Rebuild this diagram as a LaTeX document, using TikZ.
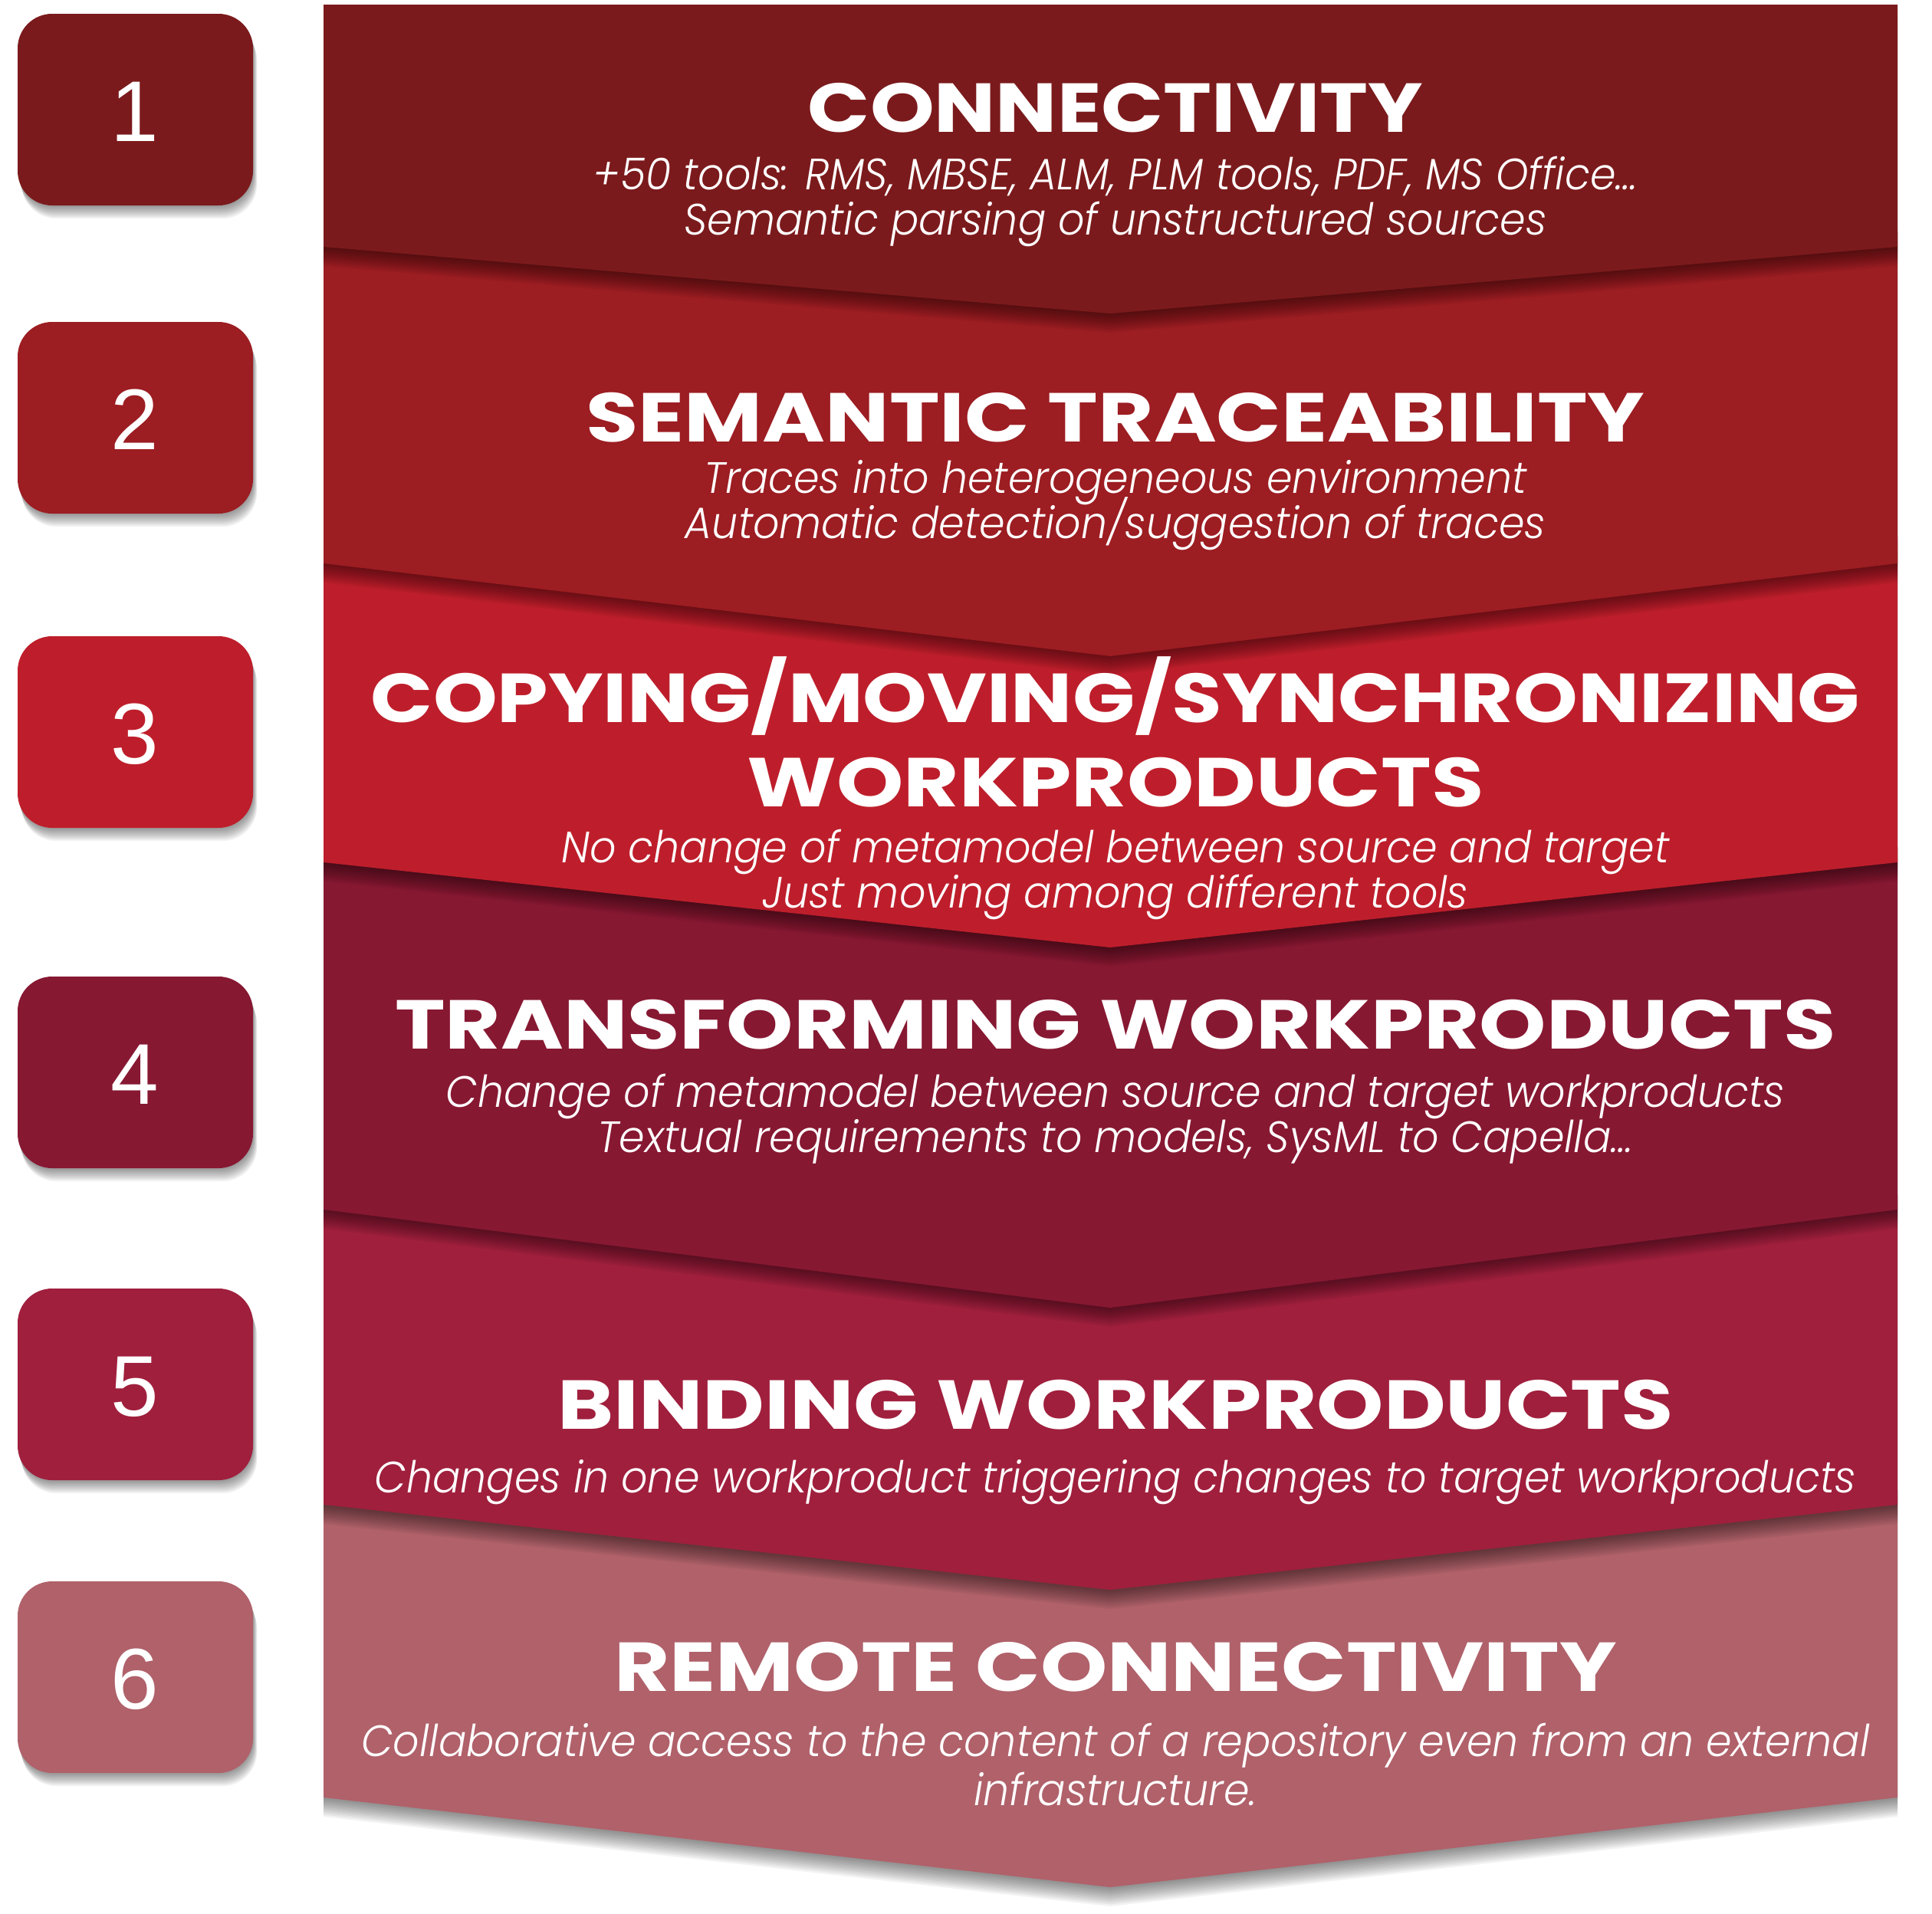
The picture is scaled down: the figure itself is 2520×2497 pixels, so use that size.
\documentclass[tikz,border=0pt]{standalone}
\usepackage{fontspec}
\newfontfamily\titlefont{Poppins}[FakeStretch=1.23]
\newfontfamily\titlefontn{Poppins}[FakeStretch=1.18]
\newfontfamily\subfont{Poppins Light}[ItalicFont={Poppins Light Italic}, FakeStretch=0.94]
\newfontfamily\numfont{Liberation Sans}
\definecolor{c1}{HTML}{7B1A1C}
\definecolor{c2}{HTML}{9C1D22}
\definecolor{c3}{HTML}{BE1E2B}
\definecolor{c4}{HTML}{871832}
\definecolor{c5}{HTML}{A01F3D}
\definecolor{c6}{HTML}{B0616A}
\tikzset{
  ttl/.style={anchor=base, text=white, inner sep=0pt, font=\titlefont\bfseries\fontsize{25.7}{30}\selectfont},
  ttln/.style={anchor=base, text=white, inner sep=0pt, font=\titlefontn\bfseries\fontsize{25.7}{30}\selectfont},
  sub/.style={anchor=base, text=white, inner sep=0pt, font=\subfont\itshape\fontsize{16.3}{20}\selectfont},
  num/.style={anchor=base, text=white, inner sep=0pt, font=\numfont\fontsize{32}{36}\selectfont},
}
\begin{document}
\begin{tikzpicture}[x=0.1mm,y=-0.1mm]
\useasboundingbox (0,0) rectangle (2520,2497);
\fill[white] (0,0) rectangle (2520,2497);
% chevrons, bottom to top
\foreach \tp/\sd/\tip/\col in {1943/2345/2462/c6, 1558/1963/2074/c5, 1105/1578/1706/c4, 700/1125/1236/c3, 302/735/856/c2, 6/322/409/c1}{
  \foreach \k in {1,...,10}{
    \fill[black, opacity=0.05, yshift=-\k*0.25mm] (422,\tp) -- (2475,\tp) -- (2475,\sd) -- (1448,\tip) -- (422,\sd) -- cycle;
  }
  \fill[\col] (422,\tp) -- (2475,\tp) -- (2475,\sd) -- (1448,\tip) -- (422,\sd) -- cycle;
}
% number boxes
\foreach \cy/\col in {143/c1, 545/c2, 955/c3, 1399/c4, 1806/c5, 2188/c6}{
  \foreach \k in {1,...,9}{
    \fill[black, opacity=0.05, rounded corners=4.5mm] ({23+0.6*\k},{\cy-125+1.9*\k}) rectangle ({330+0.6*\k},{\cy+125+1.9*\k});
  }
  \fill[\col, rounded corners=4.5mm] (23,{\cy-125}) rectangle (330,{\cy+125});
}
\node[num] (n1) at (176,184) {1};
\node[num] (n2) at (176,586) {2};
\node[num] (n3) at (176,996) {3};
\node[num] (n4) at (176,1440) {4};
\node[num] (n5) at (176,1847) {5};
\node[num] (n6) at (176,2229) {6};
% texts
\node[ttln] (t1) at (1455,172) {CONNECTIVITY};
\node[sub] (s1a) at (1455,247) {+50 tools: RMS, MBSE, ALM, PLM tools, PDF, MS Office…};
\node[sub] (s1b) at (1455,306) {Semantic parsing of unstructured sources};
\node[ttl] (t2) at (1455,576) {SEMANTIC TRACEABILITY};
\node[sub] (s2a) at (1455,643) {Traces into heterogeneous environment};
\node[sub] (s2b) at (1455,702) {Automatic detection/suggestion of traces};
\node[ttln] (t3a) at (1455,942) {COPYING/MOVING/SYNCHRONIZING};
\node[ttl] (t3b) at (1455,1052) {WORKPRODUCTS};
\node[sub] (s3a) at (1455,1125) {No change of metamodel between source and target};
\node[sub] (s3b) at (1455,1184) {Just moving among different tools};
\node[ttl] (t4) at (1455,1368) {TRANSFORMING WORKPRODUCTS};
\node[sub] (s4a) at (1455,1444) {Change of metamodel between source and target workproducts};
\node[sub] (s4b) at (1455,1503) {Textual requirements to models, SysML to Capella…};
\node[ttl] (t5) at (1455,1864) {BINDING WORKPRODUCTS};
\node[sub] (s5) at (1455,1947) {Changes in one workproduct triggering changes to target workproducts};
\node[ttl] (t6) at (1455,2206) {REMOTE CONNECTIVITY};
\node[sub] (s6a) at (1455,2291) {Collaborative access to the content of a repository even from an external};
\node[sub] (s6b) at (1455,2355) {infrastructure.};
\end{tikzpicture}
\end{document}
